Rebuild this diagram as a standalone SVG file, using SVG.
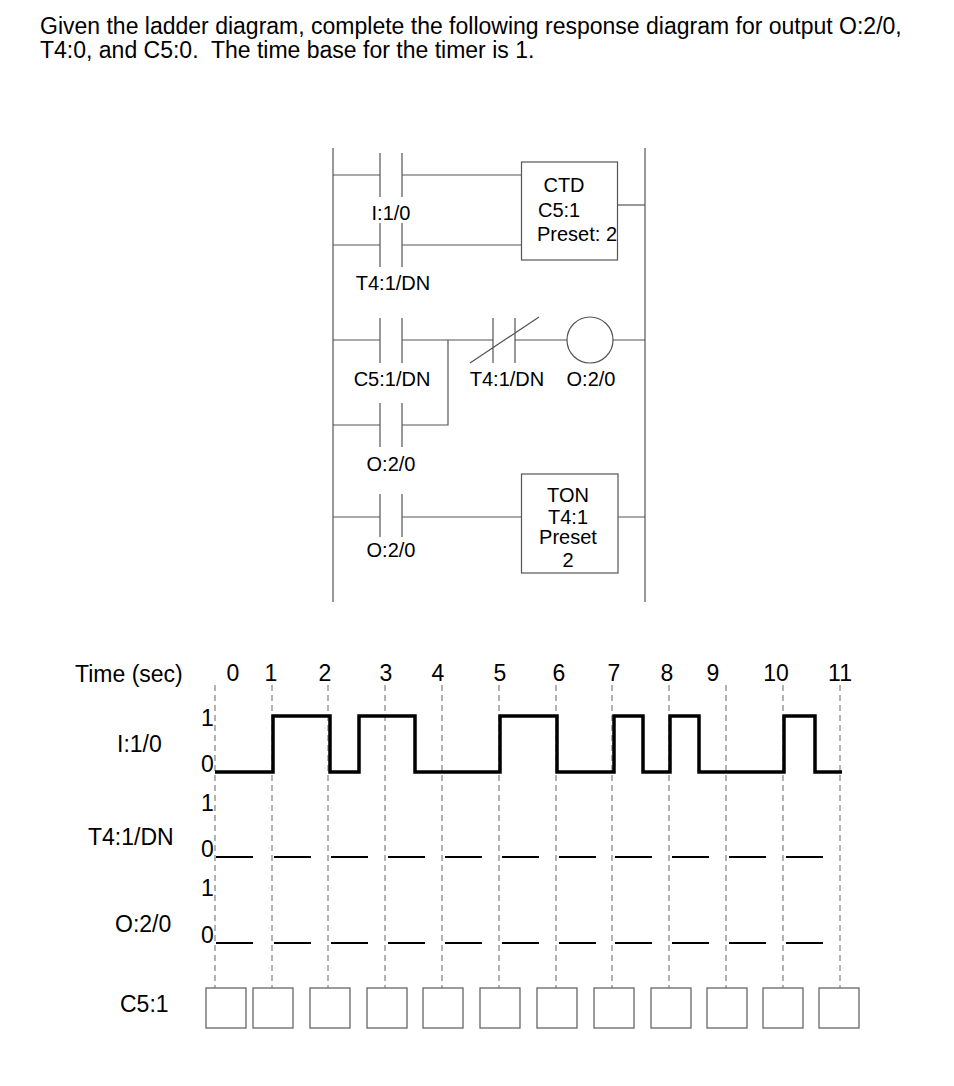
<svg xmlns="http://www.w3.org/2000/svg" width="954" height="1086" viewBox="0 0 954 1086">
<style>
text{font-family:"Liberation Sans",Arial,sans-serif;fill:#000}
.t{font-size:23px}
.n{font-size:23px}
.l{font-size:20px}
.w{stroke:#555;stroke-width:1.2;fill:none}
.g{stroke:#666;stroke-width:1;stroke-dasharray:6,4;fill:none}
.s{stroke:#000;stroke-width:3.5;fill:none}
.b{stroke:#666;stroke-width:1.3;fill:#fff}
</style>
<rect width="954" height="1086" fill="#fff"/>
<text class="t" x="40" y="34">Given the ladder diagram, complete the following response diagram for output O:2/0,</text>
<text class="t" x="40" y="58" xml:space="preserve">T4:0, and C5:0.  The time base for the timer is 1.</text>
<g id="ladder">
<g id="rails" class="w"><line x1="333" y1="148" x2="333" y2="602"/><line x1="645" y1="148" x2="645" y2="602"/></g>
<g id="connectors" class="w">
<path d="M333 175H380M402 175H521"/>
<path d="M333 245H380M402 245H521"/>
<path d="M618 205H645"/>
<path d="M333 340H380M402 340H493M515 340H567M613 340H645"/>
<path d="M448 340V425H402M380 425H333"/>
<path d="M333 517H380M402 517H521M618 517H645"/>
</g>
<g id="c1" class="w"><path d="M380 153V197M402 153V197"/></g>
<text class="l" x="391" y="220" text-anchor="middle">I:1/0</text>
<g id="c2" class="w"><path d="M380 223V267M402 223V267"/></g>
<text class="l" x="393" y="290" text-anchor="middle">T4:1/DN</text>
<g id="ctd"><rect class="w" x="521.5" y="162" width="96" height="98"/>
<text class="l" x="564" y="192" text-anchor="middle">CTD</text>
<text class="l" x="538" y="217">C5:1</text>
<text class="l" x="537" y="241">Preset: 2</text></g>
<g id="c3" class="w"><path d="M380 318V363M402 318V363"/></g>
<text class="l" x="392" y="386" text-anchor="middle">C5:1/DN</text>
<g id="c4" class="w"><path d="M493 318V363M515 318V363M470 363L539 317"/></g>
<text class="l" x="507" y="386" text-anchor="middle">T4:1/DN</text>
<g id="coil"><circle class="w" cx="590" cy="340" r="23"/></g>
<text class="l" x="591" y="386" text-anchor="middle">O:2/0</text>
<g id="c5" class="w"><path d="M380 403V447M402 403V447"/></g>
<text class="l" x="391" y="471" text-anchor="middle">O:2/0</text>
<g id="c6" class="w"><path d="M380 494V537M402 494V537"/></g>
<text class="l" x="391" y="557" text-anchor="middle">O:2/0</text>
<g id="ton"><rect class="w" x="521.5" y="474" width="96.5" height="99"/>
<text class="l" x="568" y="502" text-anchor="middle">TON</text>
<text class="l" x="568" y="524" text-anchor="middle">T4:1</text>
<text class="l" x="568" y="544" text-anchor="middle">Preset</text>
<text class="l" x="568" y="567" text-anchor="middle">2</text></g>
</g>
<g id="timing">
<text class="n" x="75" y="682">Time (sec)</text>
<g class="n" text-anchor="middle">
<text x="233" y="681">0</text><text x="271" y="681">1</text><text x="325" y="681">2</text><text x="386" y="681">3</text><text x="438" y="681">4</text><text x="500" y="681">5</text><text x="559" y="681">6</text><text x="614" y="681">7</text><text x="667" y="681">8</text><text x="713" y="681">9</text><text x="776" y="681">10</text><text x="840" y="681">11</text>
</g>
<g class="g">
<path d="M215 685V988M272 685V988M328 685V988M385 685V988M442 685V988M499 685V988M556 685V988M612 685V988M669 685V988M726 685V988M783 685V988M840 685V988"/>
</g>
<text class="n" x="117" y="752">I:1/0</text>
<text class="n" x="88" y="845">T4:1/DN</text>
<text class="n" x="115" y="932">O:2/0</text>
<text class="n" x="120" y="1012">C5:1</text>
<g class="n">
<text x="201" y="726">1</text><text x="201" y="772">0</text>
<text x="201" y="811">1</text><text x="201" y="857">0</text>
<text x="201" y="896">1</text><text x="201" y="943">0</text>
</g>
<path class="s" d="M215 772H273V716H330V772H359V716H415V772H500V716H557V772H614V716H643V772H670V716H699V772H784V716H815V772H842"/>
<g stroke="#000" stroke-width="2.2">
<path d="M216 857H253M274 857H311M331 857H368M388 857H425M445 857H482M502 857H539M559 857H596M615 857H652M672 857H709M729 857H766M786 857H823"/>
<path d="M216 943H253M274 943H311M331 943H368M388 943H425M445 943H482M502 943H539M559 943H596M615 943H652M672 943H709M729 943H766M786 943H823"/>
</g>
<g class="b">
<rect x="206" y="988" width="40" height="40"/><rect x="253" y="988" width="40" height="40"/><rect x="310" y="988" width="40" height="40"/><rect x="367" y="988" width="40" height="40"/><rect x="423" y="988" width="40" height="40"/><rect x="480" y="988" width="40" height="40"/><rect x="537" y="988" width="40" height="40"/><rect x="594" y="988" width="40" height="40"/><rect x="651" y="988" width="40" height="40"/><rect x="707" y="988" width="40" height="40"/><rect x="763" y="988" width="40" height="40"/><rect x="819" y="988" width="40" height="40"/>
</g>
</g>
</svg>
